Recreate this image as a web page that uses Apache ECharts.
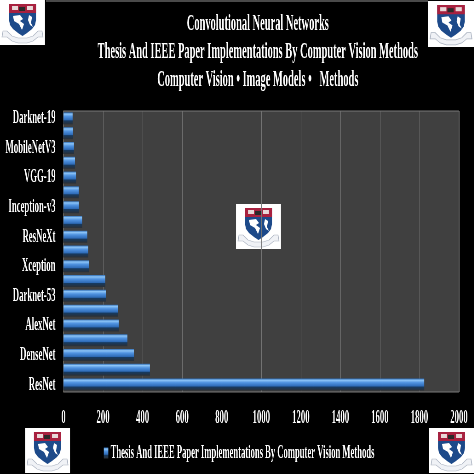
<!DOCTYPE html>
<html><head><meta charset="utf-8">
<style>html,body{margin:0;padding:0;background:#000;overflow:hidden}
#c{width:1030px;height:474px;transform:scaleX(0.46);transform-origin:0 0}</style>
<script src="https://cdn.jsdelivr.net/npm/echarts@6/dist/echarts.min.js"></script></head>
<body><div id="c"></div><script>
const categories=["ResNet","","DenseNet","","AlexNet","","Darknet-53","","Xception","","ResNeXt","","Inception-v3","","VGG-19","","MobileNetV3","","Darknet-19"];
const implementations=[1824,437,356,323,279,276,215,211,130,125,120,94,78,77,63,58,53,48,46];
const seriesName="Thesis And IEEE Paper Implementations By Computer Vision Methods";
const titleLines=["Convolutional Neural Networks","Thesis And IEEE Paper Implementations By Computer Vision Methods","Computer Vision • Image Models •   Methods"];
const K=0.46, X=v=>v/K, F='"Liberation Serif"';
const poly=(points,fill,extra)=>({type:'polygon',shape:{points},style:Object.assign({fill},extra||{})});
function logo(x,y,s){
 const sc=s/45;
 return {type:'group',x:X(x),y:y,scaleX:sc/K,scaleY:sc,silent:true,children:[
  {type:'rect',shape:{x:0,y:0,width:45,height:45},style:{fill:'#fff'}},
  poly([[9,4],[36,4],[36,20],[35,25],[32,29],[27,33],[22.5,36],[18,33],[13,29],[10,25],[9,20]],'#1d4a8a'),
  {type:'rect',shape:{x:9,y:4,width:27,height:9},style:{fill:'#a8213f'}},
  {type:'rect',shape:{x:12,y:6,width:6,height:4},style:{fill:'#e8d8d8'}},
  {type:'rect',shape:{x:27,y:6,width:6,height:4},style:{fill:'#e8d8d8'}},
  {type:'rect',shape:{x:19,y:7,width:6,height:4},style:{fill:'#2a2a2a'}},
  poly([[13,16],[20,15],[23,19],[20,21],[24,24],[22,30],[19,24],[14,21]],'#fff'),
  poly([[29,15],[32,17],[31,23],[33,27],[30,25],[28,20]],'#fff'),
  poly([[3,31],[7,31],[12,36],[18,38],[27,38],[33,36],[38,31],[42,31],[43,37],[38,37],[33,41],[27,43],[18,43],[12,41],[7,37],[2,37]],'#f0f2f6',{stroke:'#aab2c0',lineWidth:.7})
 ]};
}
const chart=echarts.init(document.getElementById('c'),null,{renderer:'canvas'});
chart.setOption({
 backgroundColor:'#000',animation:false,
 grid:{left:X(63.5),width:X(395.5),top:111,height:281,containLabel:false,outerBoundsMode:'none',backgroundColor:'#404040',show:true,borderWidth:1,borderColor:'#7a7a7a'},
 title:titleLines.map((t,i)=>({text:t,left:X(255.5),top:8+i*28,textAlign:'center',textStyle:{color:'#fff',fontFamily:F,fontWeight:'bold',fontSize:22.7}})),
 legend:{left:X(101.5),top:438.5,itemWidth:X(4.5),itemHeight:11,itemGap:0,icon:'rect',
  textStyle:{color:'#fff',fontFamily:F,fontWeight:'bold',fontSize:18.7},data:[seriesName]},
 xAxis:{type:'value',min:0,max:2000,interval:200,
  axisLine:{show:false},axisTick:{show:false},
  splitLine:{show:true,lineStyle:{color:'#767676',width:1}},
  axisLabel:{color:'#fff',fontFamily:F,fontWeight:'bold',fontSize:19,margin:17,formatter:v=>String(v)}},
 yAxis:{type:'category',data:categories,
  axisLine:{show:true,lineStyle:{color:'#8a8578',width:1}},axisTick:{show:false},
  axisLabel:{interval:0,color:'#fff',fontFamily:F,fontWeight:'bold',fontSize:19,margin:X(8)}},
 legendItemStyle:undefined,
 series:[{type:'bar',name:seriesName,data:implementations,barWidth:12,
  itemStyle:{color:new echarts.graphic.LinearGradient(0,0,0,1,[
   {offset:0,color:'#2f6db5'},{offset:.14,color:'#8cc4f7'},{offset:.34,color:'#4f92e0'},{offset:.62,color:'#2f6cb8'},{offset:.7,color:'#173a60'},{offset:1,color:'#2b3036'}])}}],
 graphic:[
  {type:'rect',silent:true,shape:{x:X(46),y:0,width:X(382),height:2},style:{fill:'#4a4a4a'}},
  logo(0,0,45),logo(428,1,46),logo(236,204,45),logo(25,428,45),logo(429,428,45)
 ]
});
</script></body></html>
